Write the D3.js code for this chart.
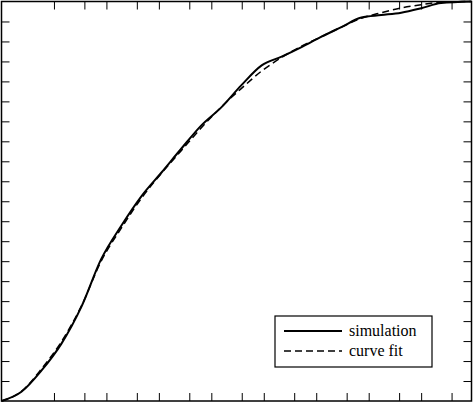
<!DOCTYPE html><html><head><script src="https://cdn.jsdelivr.net/npm/d3@7"></script>
<style>body{margin:0;background:#fff}</style></head><body><svg id="c" width="474" height="403"></svg>
<script>
const xTicks=[1,1.58,2,2.58,3,3.58,4,4.58,5,5.58,6,6.58,7,7.58,8,8.58];
const yTicks=d3.range(1,20).map(i=>i*0.05);
const xs=[0,0.38,0.76,1.14,1.52,1.9,2.29,2.67,3.05,3.43,3.81,4.19,4.57,4.96,5.34,5.72,6.1,6.48,6.86,7.24,7.62,8.0,8.38,8.96];
const simY=[0,0.023,0.076,0.143,0.235,0.355,0.44,0.513,0.572,0.632,0.69,0.735,0.79,0.84,0.862,0.886,0.912,0.936,0.96,0.966,0.972,0.983,0.996,1.0];
const fitY=[0,0.024,0.08,0.148,0.237,0.35,0.434,0.508,0.57,0.627,0.684,0.736,0.782,0.826,0.86,0.888,0.912,0.936,0.958,0.972,0.984,0.992,0.998,1.0];
const series=["simulation","curve fit"];
const svg=d3.select("#c");
const L=1.5,R=471.5,T=1.5,B=401;
const x=d3.scaleLinear().domain([0,8.96]).range([L,R]);
const y=d3.scaleLinear().domain([0,1]).range([B,T]);
svg.append("rect").attr("x",L).attr("y",T).attr("width",R-L).attr("height",B-T).attr("fill","none").attr("stroke","#000").attr("stroke-width",1.5);
svg.append("g").attr("transform",`translate(0,${B})`).call(d3.axisTop(x).tickValues(xTicks).tickSize(8).tickFormat("")).call(g=>g.select(".domain").remove());
svg.append("g").attr("transform",`translate(0,${T})`).call(d3.axisBottom(x).tickValues(xTicks).tickSize(8).tickFormat("")).call(g=>g.select(".domain").remove());
svg.append("g").attr("transform",`translate(${L},0)`).call(d3.axisRight(y).tickValues(yTicks).tickSize(8).tickFormat("")).call(g=>g.select(".domain").remove());
svg.append("g").attr("transform",`translate(${R},0)`).call(d3.axisLeft(y).tickValues(yTicks).tickSize(8).tickFormat("")).call(g=>g.select(".domain").remove());
const line=d3.line().x(d=>x(d[0])).y(d=>y(d[1])).curve(d3.curveMonotoneX);
svg.append("path").attr("d",line(xs.map((v,i)=>[v,simY[i]]))).attr("fill","none").attr("stroke","#000").attr("stroke-width",2);
svg.append("path").attr("d",line(xs.map((v,i)=>[v,fitY[i]]))).attr("fill","none").attr("stroke","#000").attr("stroke-width",1.5).attr("stroke-dasharray","7,4");
const lg=svg.append("g");
lg.append("rect").attr("x",275).attr("y",316).attr("width",157).attr("height",51).attr("fill","#fff").attr("stroke","#000").attr("stroke-width",1.2);
series.forEach((s,i)=>{
 const yy=331+i*20;
 lg.append("line").attr("x1",284).attr("x2",342).attr("y1",yy).attr("y2",yy).attr("stroke","#000").attr("stroke-width",i?1.5:2).attr("stroke-dasharray",i?"7,4":null);
 lg.append("text").attr("x",349).attr("y",yy+5).text(s).attr("font-family","Liberation Serif").attr("font-size",16);
});
</script></body></html>
